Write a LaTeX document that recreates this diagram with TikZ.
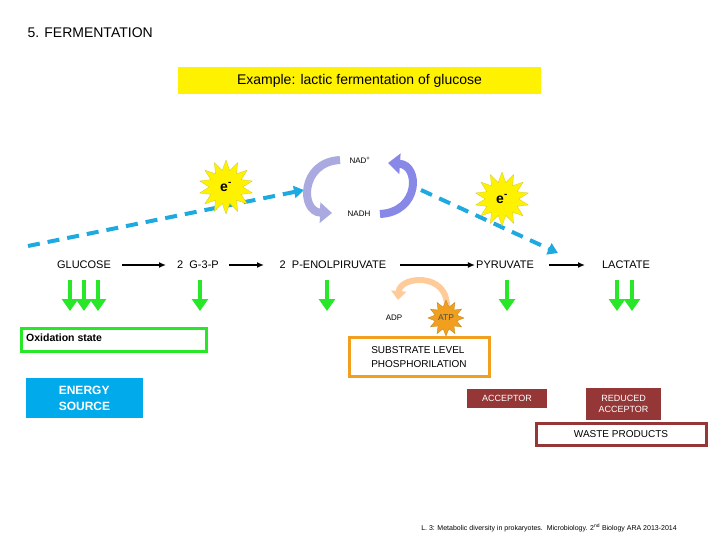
\documentclass[tikz,border=0pt]{standalone}
\usepackage{fontspec}
\setmainfont{Liberation Sans}
\usetikzlibrary{shapes.geometric,arrows.meta}
\definecolor{dblue}{RGB}{30,170,225}
\definecolor{ebox}{RGB}{0,170,235}
\definecolor{gr}{RGB}{40,230,40}
\definecolor{dred}{RGB}{150,55,55}
\definecolor{orng}{RGB}{240,160,30}
\definecolor{lav}{RGB}{170,170,225}
\begin{document}
\begin{tikzpicture}[x=1pt,y=-1pt,
  lab/.style={font=\fontsize{11}{12}\selectfont, inner sep=1pt},
  flow/.style={-{Latex[length=7pt,width=6pt]}, line width=2pt},
  garr/.style={-{Triangle[length=12pt,width=16pt]}, line width=3.5pt, gr},
  edash/.style={dblue, line width=4pt, dash pattern=on 12pt off 8pt, -{Triangle[length=10pt,width=12pt]}},
  burst/.style={star, star points=14, star point ratio=1.6, fill=#1, draw=#1!80!black, line width=0.3pt, inner sep=0pt, font=\bfseries\fontsize{14}{14}\selectfont},
  redbox/.style={fill=dred, text=white, font=\fontsize{9}{10.5}\selectfont, align=center, inner sep=2pt}]
\useasboundingbox (0,0) rectangle (720,540);
\node[anchor=west, font=\fontsize{14}{15}\selectfont] (title) at (24,33) {5. FERMENTATION};
\node[fill=yellow, minimum width=363pt, minimum height=27pt, font=\fontsize{14}{15}\selectfont] (ex) at (359.5,80.5) {Example: lactic fermentation of glucose};

\coordinate (d1s) at (28,246);
\coordinate (d1e) at (304,190);
\coordinate (d2s) at (421,190);
\coordinate (d2e) at (558,253);
\draw[edash] (d1s) -- (d1e);
\draw[edash] (d2s) -- (d2e);
\node[burst=yellow, minimum size=54pt] (e1) at (226,187) {e\textsuperscript{-}};
\node[burst=yellow, minimum size=54pt] (e2) at (502,199) {e\textsuperscript{-}};

\node[lab] (glc) at (84,265) {GLUCOSE};
\node[lab] (g3p) at (198,265) {2\ \ G-3-P};
\node[lab] (pep) at (333,265) {2\ \ P-ENOLPIRUVATE};
\node[lab] (pyr) at (505,265) {PYRUVATE};
\node[lab] (lac) at (626,265) {LACTATE};
\draw[flow] (122,265) -- (166,265);
\draw[flow] (229,265) -- (264,265);
\draw[flow] (400,265) -- (pyr.west);
\draw[flow] (549,265) -- (585,265);

\foreach \x in {70,84,98,200,327,507,617,632} \draw[garr] (\x,280) -- (\x,311);

\node[draw=gr, line width=3pt, minimum width=185pt, minimum height=23pt, anchor=north west, inner sep=0pt] (ox) at (20,327) {};
\node[anchor=west, font=\bfseries\fontsize{10.5}{11}\selectfont, inner sep=0pt] (oxt) at (26,338) {Oxidation state};
\node[fill=ebox, text=white, minimum width=117pt, minimum height=40pt, align=left, font=\bfseries\fontsize{12}{16}\selectfont] (en) at (84.5,398) {ENERGY\\SOURCE};

\node[lab, font=\fontsize{8}{9}\selectfont] (nad) at (360,160) {NAD\textsuperscript{+}};
\node[lab, font=\fontsize{8}{9}\selectfont] (nadh) at (359,214) {NADH};
\draw[lav, line width=8pt, -{Triangle[length=12pt,width=20pt]}] (340,160) .. controls (300,162) and (300,212) .. (332,213);
\draw[lav!80!blue, line width=8pt, -{Triangle[length=12pt,width=20pt]}] (380,214) .. controls (420,212) and (420,165) .. (388,163);

\node[lab, font=\fontsize{8}{9}\selectfont] (adp) at (394,318) {ADP};
\draw[orange!40, line width=6pt, -{Triangle[length=9pt,width=15pt]}] (447,306) .. controls (447,272) and (400,276) .. (398,300);
\node[burst=orng, star points=12, minimum size=28pt, font=\fontsize{8.5}{9}\selectfont, text=black!70] (atp) at (446,318) {ATP};

\node[draw=orng, line width=3pt, minimum width=140pt, minimum height=39pt, align=left, font=\fontsize{10}{14}\selectfont] (slp) at (419,357) {SUBSTRATE LEVEL\\PHOSPHORILATION};

\node[redbox, minimum width=80pt, minimum height=19pt] (acc) at (507,398.5) {ACCEPTOR};
\node[draw=dred, line width=3pt, fill=white, minimum width=170pt, minimum height=22pt, font=\fontsize{10}{11}\selectfont] (waste) at (621,434) {WASTE PRODUCTS};
\node[redbox, minimum width=75pt, minimum height=32pt] (red) at (623.5,404) {REDUCED\\ACCEPTOR};

\node[font=\fontsize{7}{8}\selectfont] (foot) at (549,528) {L. 3: Metabolic diversity in prokaryotes.\ \ Microbiology. 2\textsuperscript{nd} Biology ARA 2013-2014};
\end{tikzpicture}
\end{document}
